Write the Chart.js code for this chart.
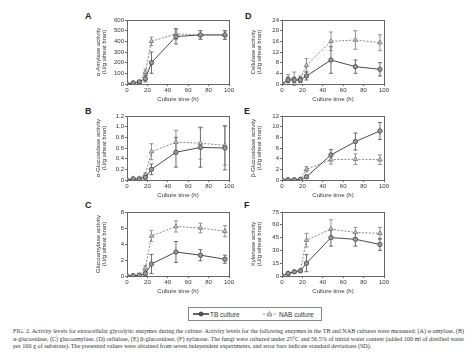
<!DOCTYPE html>
<html><head><meta charset="utf-8">
<script src="https://cdn.jsdelivr.net/npm/chart.js@4/dist/chart.umd.min.js"></script>
<style>
body{margin:0;width:474px;height:355px;background:#fff;position:relative;overflow:hidden;font-family:'Liberation Sans',Arial,sans-serif;}
canvas{position:absolute;}
.lbl{position:absolute;font-weight:bold;font-size:9px;color:#222;line-height:9px;}
#legend{position:absolute;left:188px;top:307px;width:132px;height:12px;border:1px solid #888;}
#legend span{position:absolute;font-size:6.5px;color:#333;top:3px;line-height:7px;}
#legend svg{position:absolute;top:0;}
.cap{position:absolute;left:13px;font-family:'Liberation Serif',serif;font-size:5.4px;color:#333;white-space:nowrap;transform-origin:0 50%;line-height:6px;}
</style></head><body>

<div class="lbl" style="left:85px;top:12px">A</div>
<div class="lbl" style="left:245px;top:12px">D</div>
<div class="lbl" style="left:85px;top:107px">B</div>
<div class="lbl" style="left:244px;top:107px">E</div>
<div class="lbl" style="left:85px;top:201px">C</div>
<div class="lbl" style="left:244px;top:201px">F</div>

<canvas id="cA" width="142" height="89" style="left:95px;top:14px"></canvas>
<canvas id="cD" width="142" height="89" style="left:250px;top:14px"></canvas>
<canvas id="cB" width="142" height="89" style="left:95px;top:110px"></canvas>
<canvas id="cE" width="142" height="89" style="left:250px;top:110px"></canvas>
<canvas id="cC" width="142" height="89" style="left:95px;top:206px"></canvas>
<canvas id="cF" width="142" height="89" style="left:250px;top:206px"></canvas>

<div id="legend">
  <svg width="20" height="12" style="left:3px"><line x1="1" y1="6" x2="17" y2="6" stroke="#333" stroke-width="1.5"/><circle cx="9" cy="6" r="2" fill="#555" stroke="#333" stroke-width="0.8"/></svg>
  <span style="left:21px">TB culture</span>
  <svg width="16" height="12" style="left:73px"><line x1="1" y1="6" x2="14" y2="6" stroke="#777" stroke-width="0.8" stroke-dasharray="2,1.5"/><polygon points="7.5,3.5 10,8 5,8" fill="#ddd" stroke="#777" stroke-width="0.7"/></svg>
  <span style="left:90px">NAB culture</span>
</div>

<div class="cap" id="cap1" style="top:328px">FIG. 2. Activity levels for extracellular glycolytic enzymes during the culture. Activity levels for the following enzymes in the TB and NAB cultures were measured: (A) α-amylase, (B)</div>
<div class="cap" id="cap2" style="top:335.5px">α-glucosidase, (C) glucoamylase, (D) cellulase, (E) β-glucosidase, (F) xylanase. The fungi were cultured under 25°C and 56.5% of initial water content (added 100 ml of distilled water</div>
<div class="cap" id="cap3" style="top:343px">per 100 g of substrate). The presented values were obtained from seven independent experiments, and error bars indicate standard deviations (SD).</div>

<script>
const times = [0, 6, 12, 18, 24, 48, 72, 96];
const xTicks = [0, 20, 40, 60, 80, 100];
const seriesNames = ['TB culture', 'NAB culture'];
const xTitle = 'Culture time (h)';

// A: alpha-amylase
const amylaseTB = [0, 10, 20, 50, 200, 445, 460, 460];
const amylaseTBsd = [0, 8, 10, 30, 100, 70, 40, 40];
const amylaseNAB = [0, 10, 15, 110, 400, 470, 460, 458];
const amylaseNABsd = [0, 8, 10, 30, 40, 50, 40, 40];
// B: alpha-glucosidase
const glucosidaseTB = [0, 0.02, 0.02, 0.05, 0.2, 0.52, 0.61, 0.6];
const glucosidaseTBsd = [0, 0.01, 0.01, 0.03, 0.1, 0.28, 0.37, 0.41];
const glucosidaseNAB = [0, 0.03, 0.03, 0.1, 0.53, 0.71, 0.69, 0.65];
const glucosidaseNABsd = [0, 0.01, 0.01, 0.03, 0.15, 0.22, 0.3, 0.37];
// C: glucoamylase
const glucoamylaseTB = [0, 0.05, 0.1, 0.3, 1.5, 3.0, 2.6, 2.1];
const glucoamylaseTBsd = [0, 0.05, 0.05, 0.2, 1.2, 1.3, 0.7, 0.5];
const glucoamylaseNAB = [0, 0.05, 0.1, 1.0, 5.0, 6.2, 6.0, 5.6];
const glucoamylaseNABsd = [0, 0.05, 0.05, 0.3, 0.7, 0.7, 0.6, 0.7];
// D: cellulase
const cellulaseTB = [0, 1.5, 1.5, 1.5, 3.0, 9.0, 6.5, 5.5];
const cellulaseTBsd = [0, 1.0, 1.0, 1.0, 1.5, 5.0, 2.5, 2.5];
const cellulaseNAB = [0, 2.0, 2.0, 2.0, 7.0, 16.0, 16.5, 15.5];
const cellulaseNABsd = [0, 1.5, 2.5, 1.0, 2.5, 3.5, 3.5, 3.0];
// E: beta-glucosidase
const bglucosidaseTB = [0, 0.05, 0.05, 0.1, 0.6, 4.7, 7.2, 9.2];
const bglucosidaseTBsd = [0, 0.05, 0.05, 0.1, 0.3, 1.0, 1.6, 1.6];
const bglucosidaseNAB = [0, 0.05, 0.05, 0.1, 2.0, 3.8, 3.9, 3.8];
const bglucosidaseNABsd = [0, 0.05, 0.05, 0.1, 0.5, 0.8, 1.0, 0.9];
// F: xylanase
const xylanaseTB = [0, 3, 5, 6, 15, 45, 43, 37];
const xylanaseTBsd = [0, 1, 1, 1, 10, 10, 8, 7];
const xylanaseNAB = [0, 3, 5, 6, 42, 55, 51, 50];
const xylanaseNABsd = [0, 1, 1, 1, 8, 11, 6, 7];

const panels = [
  {id:'cA', title:['α-Amylase activity','(U/g wheat bran)'], max:600, step:100, tb:amylaseTB, tbSd:amylaseTBsd, nab:amylaseNAB, nabSd:amylaseNABsd},
  {id:'cB', title:['α-Glucosidase activity','(U/g wheat bran)'], max:1.2, step:0.2, tb:glucosidaseTB, tbSd:glucosidaseTBsd, nab:glucosidaseNAB, nabSd:glucosidaseNABsd},
  {id:'cC', title:['Glucoamylase activity','(U/g wheat bran)'], max:8, step:2, tb:glucoamylaseTB, tbSd:glucoamylaseTBsd, nab:glucoamylaseNAB, nabSd:glucoamylaseNABsd},
  {id:'cD', title:['Cellulase activity','(U/g wheat bran)'], max:24, step:4, tb:cellulaseTB, tbSd:cellulaseTBsd, nab:cellulaseNAB, nabSd:cellulaseNABsd},
  {id:'cE', title:['β-Glucosidase activity','(U/g wheat bran)'], max:12, step:2, tb:bglucosidaseTB, tbSd:bglucosidaseTBsd, nab:bglucosidaseNAB, nabSd:bglucosidaseNABsd},
  {id:'cF', title:['Xylanase activity','(U/g wheat bran)'], max:75, step:15, tb:xylanaseTB, tbSd:xylanaseTBsd, nab:xylanaseNAB, nabSd:xylanaseNABsd}
];

const frame = {
  id:'frame',
  beforeDatasetsDraw(chart){
    const a = chart.chartArea, ctx = chart.ctx;
    ctx.save(); ctx.strokeStyle = '#666'; ctx.lineWidth = 1;
    ctx.strokeRect(Math.round(a.left)+0.5, Math.round(a.top)+0.5, Math.round(a.right-a.left), Math.round(a.bottom-a.top));
    ctx.restore();
  }
};
const errorBars = {
  id:'errorBars',
  beforeDatasetsDraw(chart){
    const ctx = chart.ctx, xs = chart.scales.x, ys = chart.scales.y;
    chart.data.datasets.forEach(ds => {
      if (!ds.sd) return;
      ctx.save(); ctx.strokeStyle = ds.borderColor; ctx.lineWidth = 0.8; ctx.setLineDash([]);
      ds.data.forEach((p, i) => {
        const s = ds.sd[i]; if (!s) return;
        const x = xs.getPixelForValue(p.x);
        const y1 = ys.getPixelForValue(p.y - s), y2 = ys.getPixelForValue(p.y + s);
        ctx.beginPath();
        ctx.moveTo(x, y1); ctx.lineTo(x, y2);
        ctx.moveTo(x-2, y1); ctx.lineTo(x+2, y1);
        ctx.moveTo(x-2, y2); ctx.lineTo(x+2, y2);
        ctx.stroke();
      });
      ctx.restore();
    });
  }
};

Chart.defaults.font.family = "'Liberation Sans', Arial, sans-serif";
Chart.defaults.font.size = 6;
Chart.defaults.color = '#333';

panels.forEach(p => {
  const mk = (vals) => times.map((t, i) => ({x:t, y:vals[i]}));
  new Chart(document.getElementById(p.id), {
    type:'line',
    data:{datasets:[
      {label:seriesNames[0], data:mk(p.tb), sd:p.tbSd, borderColor:'#4a4a4a', borderWidth:1, pointStyle:'circle', pointRadius:2.2, pointBackgroundColor:'#999', pointBorderColor:'#444', pointBorderWidth:0.8, tension:0},
      {label:seriesNames[1], data:mk(p.nab), sd:p.nabSd, borderColor:'#7a7a7a', borderWidth:0.9, borderDash:[2,1.5], pointStyle:'triangle', pointRadius:2.6, pointBackgroundColor:'#c8c8c8', pointBorderColor:'#666', pointBorderWidth:0.7, tension:0}
    ]},
    options:{
      responsive:false, animation:false, devicePixelRatio:1,
      layout:{padding:{top:6, right:8, left:0, bottom:0}},
      plugins:{legend:{display:false}, tooltip:{enabled:false}},
      scales:{
        x:{type:'linear', min:0, max:100,
           afterBuildTicks(a){ a.ticks = xTicks.map(v => ({value:v})); },
           ticks:{padding:1, maxRotation:0, autoSkip:false, font:{size:6}},
           grid:{drawOnChartArea:false, tickLength:2, color:'#666'},
           border:{color:'#666'},
           title:{display:true, text:xTitle, font:{size:6, lineHeight:1.1}, padding:{top:0,bottom:0}, color:'#333'},
           afterFit(a){ a.height = 19; }},
        y:{min:0, max:p.max,
           ticks:{stepSize:p.step, padding:1, font:{size:6}},
           grid:{drawOnChartArea:false, tickLength:2, color:'#666'},
           border:{color:'#666'},
           title:{display:true, text:p.title, font:{size:6, lineHeight:1.05}, padding:{top:0,bottom:0}, color:'#333'},
           afterFit(a){ a.width = 32; }}
      }
    },
    plugins:[frame, errorBars]
  });
});

// fit full caption lines to the column width
['cap1','cap2'].forEach(id => {
  const el = document.getElementById(id);
  const w = el.getBoundingClientRect().width;
  el.style.transform = 'scaleX(' + (451 / w) + ')';
});
const c3 = document.getElementById('cap3');
const c1 = document.getElementById('cap1');
c3.style.transform = c1.style.transform;
</script>
</body></html>
